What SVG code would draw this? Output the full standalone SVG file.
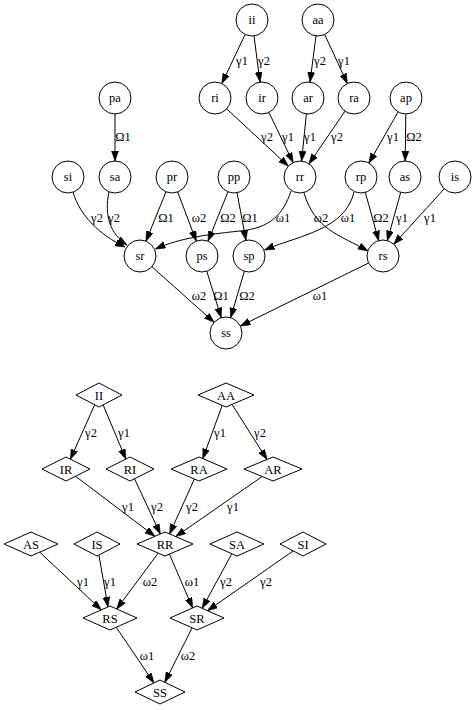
<svg xmlns="http://www.w3.org/2000/svg" width="474" height="710" viewBox="0 0 474 710">
<style>
  .n circle, .n polygon { fill: #fff; stroke: #000; stroke-width: 1; }
  text { font-family: "Liberation Serif", "Times New Roman", serif; font-size: 12.5px; fill: #000; text-anchor: middle; }
  .e path, .e line { fill: none; stroke: #000; stroke-width: 1; marker-end: url(#ah); }
</style>
<defs>
  <marker id="ah" markerUnits="userSpaceOnUse" markerWidth="10" markerHeight="8" refX="10" refY="3.5" orient="auto">
    <path d="M0,0 L10,3.5 L0,7 z" fill="#000" stroke="#000" stroke-width="0.6"/>
  </marker>
</defs>
<rect width="474" height="710" fill="#fff"/>

<g id="connectors" class="e">
  <!-- top graph -->
  <line x1="245.1" y1="34.5" x2="221.9" y2="83.5"/>
  <line x1="254.0" y1="35.9" x2="260.0" y2="82.1"/>
  <line x1="316.0" y1="35.9" x2="310.0" y2="82.1"/>
  <line x1="324.7" y1="34.5" x2="347.3" y2="83.5"/>
  <line x1="115" y1="114" x2="115" y2="161"/>
  <line x1="226.7" y1="108.9" x2="288.3" y2="166.1"/>
  <line x1="268.9" y1="112.4" x2="293.1" y2="162.6"/>
  <line x1="306.4" y1="113.9" x2="301.6" y2="161.1"/>
  <line x1="345.0" y1="111.2" x2="309.0" y2="163.8"/>
  <line x1="398.1" y1="111.9" x2="368.9" y2="163.1"/>
  <line x1="405.8" y1="114" x2="405.2" y2="161"/>
  <path d="M73,192 C80,216 100,235 125,247"/>
  <path d="M109,192 C104,215 110,234 127,245"/>
  <line x1="166.0" y1="191.8" x2="146.0" y2="241.2"/>
  <line x1="177.7" y1="192.0" x2="196.3" y2="241.0"/>
  <line x1="228.0" y1="191.8" x2="208.0" y2="241.2"/>
  <line x1="237.0" y1="192.7" x2="246.0" y2="240.3"/>
  <path d="M291,191 C283,215 270,228 240,231 C200,235 175,240 155.5,249"/>
  <path d="M304,193 C315,230 340,235 368,251"/>
  <path d="M354,192 C345,230 300,235 264.5,250"/>
  <line x1="365.3" y1="192.4" x2="378.7" y2="240.6"/>
  <line x1="400.7" y1="192.4" x2="387.3" y2="240.6"/>
  <line x1="444.2" y1="188.8" x2="393.8" y2="244.2"/>
  <line x1="151.9" y1="266.7" x2="214.1" y2="322.3"/>
  <line x1="206.8" y1="271.3" x2="221.2" y2="317.7"/>
  <line x1="244.4" y1="271.3" x2="230.6" y2="317.7"/>
  <line x1="368.6" y1="263.0" x2="240.4" y2="326.0"/>
  <!-- bottom graph -->
  <line x1="94.7" y1="404.7" x2="70.4" y2="459.2"/>
  <line x1="103.1" y1="404.8" x2="125.8" y2="459.1"/>
  <line x1="222.2" y1="405.4" x2="202.8" y2="458.6"/>
  <line x1="232.0" y1="404.4" x2="267.0" y2="459.5"/>
  <line x1="75.5" y1="476.2" x2="154.9" y2="536.3"/>
  <line x1="134.5" y1="478.7" x2="160.3" y2="534.0"/>
  <line x1="194.4" y1="479.0" x2="169.6" y2="534.0"/>
  <line x1="262.2" y1="476.5" x2="175.7" y2="536.6"/>
  <line x1="39.7" y1="552.1" x2="101.3" y2="609.9"/>
  <line x1="98.9" y1="555.0" x2="108.0" y2="606.9"/>
  <line x1="158.2" y1="553.1" x2="116.7" y2="609.0"/>
  <line x1="169.4" y1="554.1" x2="192.6" y2="607.9"/>
  <line x1="231.8" y1="553.7" x2="202.2" y2="608.3"/>
  <line x1="293.2" y1="550.9" x2="207.5" y2="610.7"/>
  <line x1="116.2" y1="627.2" x2="153.9" y2="682.9"/>
  <line x1="192.1" y1="627.8" x2="164.8" y2="682.3"/>
</g>

<g id="edge-labels">
  <text x="242" y="65">γ1</text>
  <text x="264" y="65">γ2</text>
  <text x="320" y="65">γ2</text>
  <text x="344" y="65">γ1</text>
  <text x="123" y="141">Ω1</text>
  <text x="267" y="141">γ2</text>
  <text x="288" y="141">γ1</text>
  <text x="310" y="141">γ1</text>
  <text x="337" y="141">γ2</text>
  <text x="393" y="141">γ1</text>
  <text x="414" y="141">Ω2</text>
  <text x="97" y="222">γ2</text>
  <text x="114" y="222">γ2</text>
  <text x="166" y="222">Ω1</text>
  <text x="199" y="222">ω2</text>
  <text x="228" y="222">Ω2</text>
  <text x="250" y="222">Ω1</text>
  <text x="283" y="222">ω1</text>
  <text x="321" y="222">ω2</text>
  <text x="348" y="222">ω1</text>
  <text x="381" y="222">Ω2</text>
  <text x="402" y="222">γ1</text>
  <text x="430" y="222">γ1</text>
  <text x="199" y="300">ω2</text>
  <text x="221" y="300">Ω1</text>
  <text x="247" y="300">Ω2</text>
  <text x="320" y="300">ω1</text>

  <text x="91" y="437">γ2</text>
  <text x="124" y="437">γ1</text>
  <text x="220" y="437">γ1</text>
  <text x="260" y="437">γ2</text>
  <text x="128" y="511">γ1</text>
  <text x="157" y="511">γ2</text>
  <text x="192" y="511">γ2</text>
  <text x="233" y="511">γ1</text>
  <text x="83" y="586">γ1</text>
  <text x="110" y="586">γ1</text>
  <text x="150" y="586">ω2</text>
  <text x="192" y="586">ω1</text>
  <text x="226" y="586">γ2</text>
  <text x="266" y="586">γ2</text>
  <text x="147" y="660">ω1</text>
  <text x="188" y="660">ω2</text>
</g>

<g id="ii" class="n"><circle cx="252" cy="20" r="16"/><text x="252" y="24">ii</text></g>
<g id="aa" class="n"><circle cx="318" cy="20" r="16"/><text x="318" y="24">aa</text></g>
<g id="pa" class="n"><circle cx="115" cy="98" r="16"/><text x="115" y="102">pa</text></g>
<g id="ri" class="n"><circle cx="215" cy="98" r="16"/><text x="215" y="102">ri</text></g>
<g id="ir" class="n"><circle cx="262" cy="98" r="16"/><text x="262" y="102">ir</text></g>
<g id="ar" class="n"><circle cx="308" cy="98" r="16"/><text x="308" y="102">ar</text></g>
<g id="ra" class="n"><circle cx="354" cy="98" r="16"/><text x="354" y="102">ra</text></g>
<g id="ap" class="n"><circle cx="406" cy="98" r="16"/><text x="406" y="102">ap</text></g>
<g id="si" class="n"><circle cx="68" cy="177" r="16"/><text x="68" y="181">si</text></g>
<g id="sa" class="n"><circle cx="115" cy="177" r="16"/><text x="115" y="181">sa</text></g>
<g id="pr" class="n"><circle cx="172" cy="177" r="16"/><text x="172" y="181">pr</text></g>
<g id="pp" class="n"><circle cx="234" cy="177" r="16"/><text x="234" y="181">pp</text></g>
<g id="rr" class="n"><circle cx="300" cy="177" r="16"/><text x="300" y="181">rr</text></g>
<g id="rp" class="n"><circle cx="361" cy="177" r="16"/><text x="361" y="181">rp</text></g>
<g id="as" class="n"><circle cx="405" cy="177" r="16"/><text x="405" y="181">as</text></g>
<g id="is" class="n"><circle cx="455" cy="177" r="16"/><text x="455" y="181">is</text></g>
<g id="sr" class="n"><circle cx="140" cy="256" r="16"/><text x="140" y="260">sr</text></g>
<g id="ps" class="n"><circle cx="202" cy="256" r="16"/><text x="202" y="260">ps</text></g>
<g id="sp" class="n"><circle cx="249" cy="256" r="16"/><text x="249" y="260">sp</text></g>
<g id="rs" class="n"><circle cx="383" cy="256" r="16"/><text x="383" y="260">rs</text></g>
<g id="ss" class="n"><circle cx="226" cy="333" r="16"/><text x="226" y="337">ss</text></g>

<g id="II" class="n"><polygon points="99,383 122,395 99,407 76,395"/><text x="99" y="399.5">II</text></g>
<g id="AA" class="n"><polygon points="226,383 254,395 226,407 198,395"/><text x="226" y="399.5">AA</text></g>
<g id="IR" class="n"><polygon points="66,457 90,469 66,481 42,469"/><text x="66" y="473.5">IR</text></g>
<g id="RI" class="n"><polygon points="130,457 154,469 130,481 106,469"/><text x="130" y="473.5">RI</text></g>
<g id="RA" class="n"><polygon points="199,457 227,469 199,481 171,469"/><text x="199" y="473.5">RA</text></g>
<g id="AR" class="n"><polygon points="273,457 302,469 273,481 244,469"/><text x="273" y="473.5">AR</text></g>
<g id="AS" class="n"><polygon points="31,532 58,544 31,556 4,544"/><text x="31" y="548.5">AS</text></g>
<g id="IS" class="n"><polygon points="97,532 120,544 97,556 74,544"/><text x="97" y="548.5">IS</text></g>
<g id="RR" class="n"><polygon points="165,532 193,544 165,556 137,544"/><text x="165" y="548.5">RR</text></g>
<g id="SA" class="n"><polygon points="237,532 264,544 237,556 210,544"/><text x="237" y="548.5">SA</text></g>
<g id="SI" class="n"><polygon points="303,532 326,544 303,556 280,544"/><text x="303" y="548.5">SI</text></g>
<g id="RS" class="n"><polygon points="110,606 137,618 110,630 83,618"/><text x="110" y="622.5">RS</text></g>
<g id="SR" class="n"><polygon points="197,606 224,618 197,630 170,618"/><text x="197" y="622.5">SR</text></g>
<g id="SS" class="n"><polygon points="160,680 185,692 160,704 135,692"/><text x="160" y="696.5">SS</text></g>
</svg>
